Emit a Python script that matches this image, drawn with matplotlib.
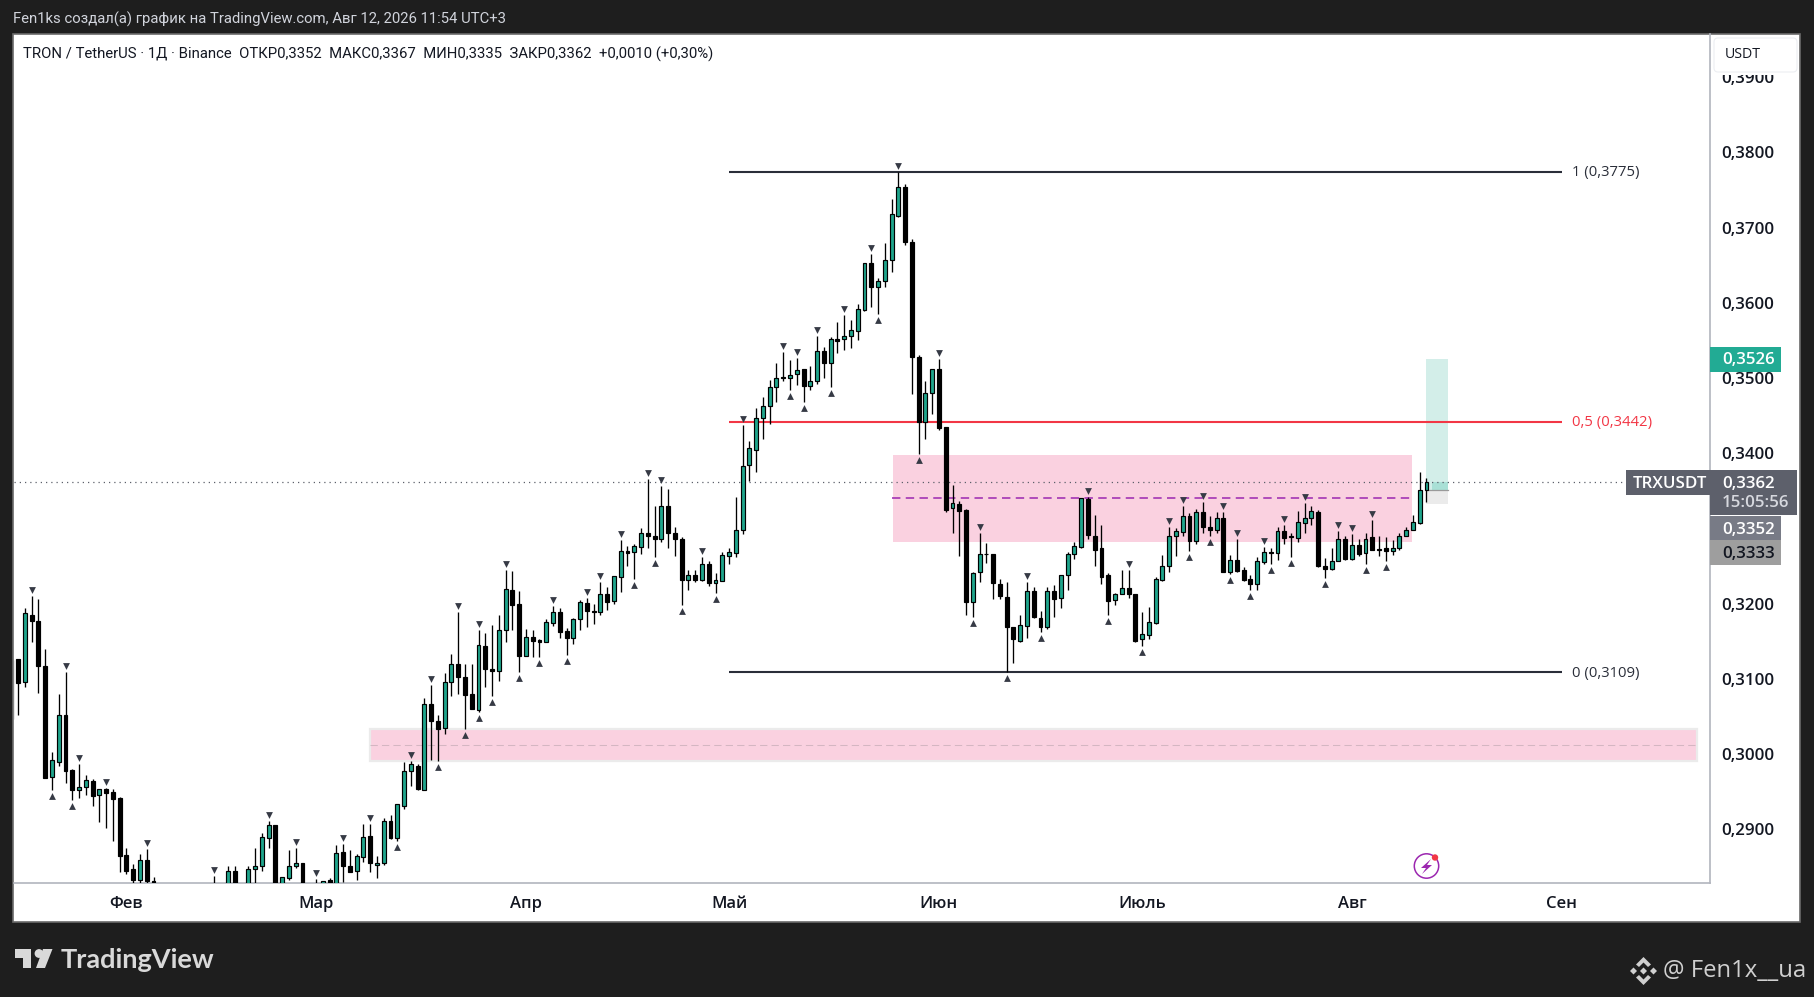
import numpy as np
import pandas as pd
import matplotlib
matplotlib.use('Agg')
import matplotlib.pyplot as plt
from matplotlib.patches import Rectangle, Polygon, Circle, FancyBboxPatch
from matplotlib.ticker import FuncFormatter
from matplotlib.transforms import ScaledTranslation

plt.rcParams['font.family'] = ['Open Sans', 'DejaVu Sans']

N = None
# daily candles from Jan 15, prices in 1/10000 USDT, None = below the visible range
opens = [3047, 3127, 3096, 3186, 3177, 3118, 2970, 2990, 3053, 2979,
         2953, 2956, 2964, 2946, 2954, 2950, 2942, 2866, 2847, 2833,
         2860, 2832, N, N, N, N, N, N, N, N,
         2815, N, 2815, 2845, N, 2815, 2847, 2852, 2889, 2906,
         2815, 2835, 2852, 2856, N, 2815, 2815, 2833, 2815, 2870,
         2851, 2845, 2864, 2891, 2853, 2856, 2912, 2889, 2932, 2978,
         2985, 2953, 3067, 3044, 3035, 3096, 3120, 3103, 3080, 3059,
         3144, 3114, 3111, 3165, 3218, 3200, 3131, 3156, 3152, 3150,
         3175, 3189, 3164, 3155, 3180, 3201, 3191, 3189, 3213, 3204,
         3236, 3271, 3269, 3276, 3294, 3290, 3287, 3330, 3295, 3287,
         3232, 3238, 3232, 3253, 3228, 3230, 3264, 3268, 3298, 3385,
         3405, 3447, 3463, 3489, 3502, 3501, 3506, 3512, 3490, 3496,
         3537, 3521, 3552, 3552, 3556, 3563, 3591, 3653, 3622, 3629,
         3657, 3716, 3755, 3681, 3528, 3442, 3480, 3512, 3436, 3327,
         3333, 3325, 3202, 3242, 3267, 3266, 3227, 3209, 3169, 3151,
         3171, 3217, 3182, 3170, 3217, 3208, 3238, 3267, 3276, 3339,
         3291, 3274, 3238, 3205, 3213, 3221, 3213, 3153, 3159, 3175,
         3232, 3251, 3291, 3296, 3317, 3284, 3322, 3303, 3298, 3314,
         3243, 3259, 3245, 3233, 3226, 3256, 3269, 3268, 3297, 3290,
         3288, 3308, 3314, 3322, 3250, 3247, 3257, 3286, 3260, 3278,
         3268, 3289, 3273, 3274, 3270, 3275, 3290, 3298, 3308, 3352]
highs = [3126, 3127, 3194, 3210, 3206, 3140, 3003, 3080, 3109, 2980,
         2987, 2972, 2967, 2954, 2955, 2954, 2943, 2875, 2854, 2868,
         2874, 2837, N, N, N, N, N, N, N, N,
         2838, N, 2852, 2852, N, 2852, 2876, 2895, 2911, 2906,
         2837, 2873, 2876, 2856, N, 2834, 2832, 2835, 2879, 2881,
         2873, 2868, 2907, 2908, 2865, 2915, 2919, 2934, 2990, 2991,
         2987, 3075, 3092, 3052, 3108, 3134, 3189, 3120, 3120, 3165,
         3161, 3172, 3185, 3245, 3244, 3217, 3167, 3165, 3154, 3180,
         3197, 3194, 3168, 3182, 3205, 3208, 3200, 3229, 3223, 3237,
         3285, 3277, 3280, 3301, 3366, 3330, 3357, 3353, 3302, 3289,
         3245, 3245, 3263, 3257, 3241, 3269, 3274, 3342, 3438, 3417,
         3461, 3475, 3498, 3520, 3535, 3524, 3527, 3513, 3516, 3556,
         3542, 3555, 3575, 3584, 3578, 3599, 3653, 3665, 3633, 3680,
         3739, 3775, 3759, 3685, 3531, 3497, 3513, 3526, 3436, 3358,
         3337, 3326, 3242, 3295, 3281, 3267, 3233, 3229, 3169, 3185,
         3229, 3223, 3190, 3222, 3225, 3238, 3269, 3282, 3341, 3342,
         3318, 3305, 3241, 3214, 3245, 3245, 3213, 3189, 3196, 3236,
         3265, 3303, 3301, 3330, 3321, 3326, 3336, 3317, 3322, 3322,
         3265, 3286, 3249, 3238, 3263, 3276, 3274, 3302, 3305, 3294,
         3324, 3334, 3330, 3325, 3261, 3275, 3297, 3291, 3293, 3286,
         3295, 3312, 3290, 3289, 3285, 3295, 3302, 3318, 3375, 3367]
lows = [3047, 3052, 3090, 3150, 3081, 2969, 2952, 2984, 2962, 2939,
        2942, 2946, 2931, 2910, 2902, 2885, 2843, 2841, 2828, 2828,
        2828, 2805, N, N, N, N, N, N, N, N,
        2805, N, 2810, 2810, N, 2810, 2828, 2845, 2875, 2810,
        2810, 2833, 2849, 2810, N, 2805, 2810, 2810, 2810, 2830,
        2844, 2833, 2857, 2843, 2836, 2853, 2887, 2885, 2927, 2958,
        2952, 2952, 2993, 2991, 3027, 3077, 3080, 3034, 3060, 3056,
        3090, 3078, 3098, 3149, 3165, 3110, 3131, 3130, 3129, 3150,
        3171, 3155, 3132, 3147, 3165, 3170, 3173, 3185, 3192, 3200,
        3216, 3250, 3233, 3266, 3275, 3263, 3282, 3275, 3264, 3198,
        3219, 3229, 3231, 3224, 3215, 3230, 3253, 3262, 3293, 3363,
        3375, 3419, 3439, 3468, 3497, 3485, 3491, 3469, 3485, 3493,
        3501, 3489, 3534, 3538, 3540, 3551, 3589, 3595, 3585, 3622,
        3641, 3714, 3678, 3479, 3399, 3420, 3453, 3431, 3322, 3295,
        3264, 3186, 3183, 3229, 3255, 3207, 3207, 3109, 3121, 3149,
        3155, 3181, 3163, 3167, 3183, 3195, 3219, 3260, 3275, 3287,
        3251, 3226, 3186, 3199, 3213, 3208, 3150, 3144, 3154, 3173,
        3230, 3242, 3264, 3291, 3271, 3280, 3295, 3290, 3295, 3242,
        3240, 3242, 3230, 3218, 3219, 3253, 3253, 3259, 3280, 3262,
        3282, 3295, 3305, 3249, 3235, 3245, 3257, 3259, 3259, 3264,
        3253, 3272, 3264, 3257, 3265, 3272, 3290, 3298, 3306, 3335]
closes = [3126, 3095, 3188, 3177, 3118, 2969, 2992, 3053, 2978, 2953,
          2956, 2966, 2945, 2954, 2949, 2941, 2865, 2845, 2833, 2860,
          2832, 2810, N, N, N, N, N, N, N, N,
          2822, N, 2845, 2815, N, 2848, 2852, 2890, 2906, 2815,
          2837, 2852, 2856, 2815, N, 2820, 2831, 2815, 2869, 2851,
          2844, 2865, 2890, 2855, 2856, 2912, 2889, 2934, 2978, 2987,
          2954, 3067, 3044, 3034, 3096, 3120, 3103, 3079, 3060, 3145,
          3114, 3111, 3166, 3220, 3199, 3131, 3156, 3151, 3150, 3176,
          3189, 3163, 3155, 3180, 3202, 3191, 3189, 3213, 3203, 3237,
          3271, 3268, 3277, 3294, 3290, 3286, 3330, 3294, 3287, 3232,
          3238, 3232, 3253, 3228, 3232, 3265, 3269, 3299, 3384, 3407,
          3447, 3463, 3489, 3501, 3501, 3505, 3511, 3490, 3496, 3537,
          3520, 3552, 3550, 3556, 3564, 3592, 3653, 3622, 3629, 3657,
          3718, 3755, 3681, 3529, 3442, 3480, 3513, 3434, 3325, 3334,
          3324, 3202, 3241, 3267, 3266, 3228, 3210, 3169, 3153, 3172,
          3217, 3183, 3170, 3217, 3207, 3238, 3267, 3277, 3341, 3292,
          3272, 3236, 3204, 3213, 3221, 3213, 3151, 3160, 3176, 3233,
          3251, 3291, 3297, 3317, 3284, 3322, 3303, 3298, 3315, 3243,
          3258, 3244, 3232, 3226, 3257, 3269, 3268, 3297, 3288, 3289,
          3309, 3315, 3323, 3250, 3247, 3257, 3286, 3260, 3278, 3267,
          3287, 3272, 3272, 3271, 3274, 3290, 3298, 3309, 3352, 3362]

# pivot markers, days counted from Mar 1
pivot_high_days = [-42, -37, -35, -31, -25, -15, -7, -3, 0, 4, 8, 14, 17, 21, 24, 28, 35, 40, 42, 45,
                   49, 51, 57, 63, 69, 71, 74, 78, 82, 86, 92, 98, 105, 114, 120, 126, 128, 131,
                   134, 136, 140, 143, 146, 151, 153, 156]
pivot_low_days = [-39, -36, 12, 18, 22, 24, 26, 30, 33, 37, 47, 50, 54, 59, 70, 72, 76, 83, 89, 97,
                  102, 107, 117, 122, 129, 132, 135, 138, 141, 144, 149, 155, 158]

month_days = [-28, 0, 31, 61, 92, 122, 153, 184]
month_labels = ['Фев', 'Мар', 'Апр', 'Май', 'Июн', 'Июль', 'Авг', 'Сен']
price_ticks = [0.29, 0.30, 0.31, 0.32, 0.33, 0.34, 0.35, 0.36, 0.37, 0.38, 0.39]

fib_levels = [0.3775, 0.3442, 0.3109]
fib_labels = ['1 (0,3775)', '0,5 (0,3442)', '0 (0,3109)']
fib_colors = ['#2a2e39', '#f23645', '#2a2e39']

last_price = 0.3362
target_price = 0.3526
entry_price = 0.3352
stop_price = 0.3333

W, H = 1814, 997
GREEN = '#1fa58c'

fig = plt.figure(figsize=(W / 100, H / 100), dpi=100, facecolor='#1e1e1e')


def px_axes(z):
    a = fig.add_axes([0, 0, 1, 1], zorder=z)
    a.set_xlim(0, W)
    a.set_ylim(H, 0)
    a.axis('off')
    return a


bg = px_axes(0)
bg.add_patch(Rectangle((13, 34), 1787, 888, fc='white', ec='#6a6a6a', lw=1.2))

ax = fig.add_axes([13.5 / W, (H - 882.5) / H, 1696 / W, 848.5 / H], zorder=1)
ax.set_xlim(-44.68, 205.8)
ax.set_ylim(0.28296, 0.3958)
ax.patch.set_alpha(0)
for s in ['top', 'left']:
    ax.spines[s].set_visible(False)
for s in ['right', 'bottom']:
    ax.spines[s].set_color('#b2b5be')
    ax.spines[s].set_linewidth(1.2)

o = np.array(opens, dtype=float) / 10000
h = np.array(highs, dtype=float) / 10000
l = np.array(lows, dtype=float) / 10000
c = np.array(closes, dtype=float) / 10000
dates = pd.date_range('2026-01-15', periods=len(o))
days = np.array((dates - pd.Timestamp('2026-03-01')).days)

# zones
ax.add_patch(Rectangle((85.2, 0.3283), 76.7, 0.0115, fc='#fad1e0', ec='none', zorder=1))
ax.add_patch(Rectangle((8, 0.2991), 196, 0.0043, fc='#fad1e0', ec='#ebebeb', lw=1.6, zorder=1))
ax.plot([85, 162], [0.33405, 0.33405], color='#9c27b0', lw=1.1, ls=(0, (5.5, 3.5)), zorder=2)
ax.plot([8, 204], [0.30125, 0.30125], color='#d4b6c2', lw=0.75, ls=(0, (7, 4)), zorder=2)

# long position box
ax.add_patch(Rectangle((164, entry_price), 3.2, target_price - entry_price, fc='#d3eee9', ec='none', zorder=1))
ax.add_patch(Rectangle((164, stop_price), 3.2, entry_price - stop_price, fc='#ebebeb', ec='none', zorder=1))
ax.add_patch(Rectangle((164.8, entry_price), 2.4, last_price - entry_price, fc='#a9e0d6', ec='none', zorder=1))
ax.plot([164, 167.2], [entry_price, entry_price], color='#9a9a9a', lw=0.9, zorder=2)

# last price
ax.axhline(last_price, color='#5d606b', lw=0.9, ls=(0, (1, 3.2)), zorder=2)

# fib
for lev, txt, col in zip(fib_levels, fib_labels, fib_colors):
    ax.plot([61, 184], [lev, lev], color=col, lw=1.5, zorder=2, solid_capstyle='butt')
    ax.text(185.5, lev - 0.00012, txt, color=col, fontsize=10.7, va='center', ha='left')

# candles
up = c >= o
ax.vlines(days, l, h, color='black', lw=0.95, zorder=3)
ax.bar(days[up], (c - o)[up], bottom=o[up], width=0.58, color=GREEN, edgecolor='black', lw=0.85, zorder=4)
ax.bar(days[~up], (o - c)[~up], bottom=c[~up], width=0.58, color='black', edgecolor='black', lw=0.85, zorder=4)

# pivots
hi_x = np.array(pivot_high_days)
lo_x = np.array(pivot_low_days)
ax.scatter(hi_x, h[hi_x + 45] + 0.0008, marker='v', s=24, color='#363a45', lw=0, zorder=5)
ax.scatter(lo_x, l[lo_x + 45] - 0.0008, marker='^', s=24, color='#363a45', lw=0, zorder=5)

ax.set_xticks(month_days)
ax.set_xticklabels(month_labels)
ax.yaxis.tick_right()
ax.set_yticks(price_ticks)
ax.yaxis.set_major_formatter(FuncFormatter(lambda v, pos: f'{v:.4f}'.replace('.', ',')))
ax.tick_params(axis='y', length=0, pad=8.5, labelsize=12.2, labelcolor='#131722')
ax.tick_params(axis='x', length=0, pad=10, labelsize=12, labelcolor='#131722')
for lab in ax.get_xticklabels():
    lab.set_fontweight('semibold')
for lab in ax.get_yticklabels():
    lab.set_fontweight('semibold')
    lab.set_transform(lab.get_transform() + ScaledTranslation(0, 0.4 / 100, fig.dpi_scale_trans))

ui = px_axes(2)
ui.patch.set_alpha(0)


def tag(x0, x1, y0, y1, fc, txt, tc='white', tx=None, dy=0):
    ui.add_patch(Rectangle((x0, y0), x1 - x0, y1 - y0, fc=fc, ec='none'))
    ui.text(x0 + 12 if tx is None else tx, (y0 + y1) / 2 + dy, txt, color=tc, fontsize=12.2,
            va='center', ha='left', weight='semibold')


# USDT button hides the top of the 0,3900 label
ui.add_patch(Rectangle((1711, 35), 88, 40, fc='white', ec='none'))
ui.add_patch(FancyBboxPatch((1717, 41), 77, 28, boxstyle='round,pad=3,rounding_size=4', fc='white', ec='#eceef2', lw=0.8))
ui.text(1725, 55, 'USDT', color='#131722', fontsize=10.2, va='center')
tag(1710, 1781, 347, 372, '#22ab94', '0,3526')
tag(1626, 1710, 470, 495, '#5d606b', 'TRXUSDT', tx=1633, dy=1.5)
ui.add_patch(Rectangle((1710, 470), 87, 45, fc='#5d606b', ec='none'))
ui.text(1722, 483.5, '0,3362', color='white', fontsize=12.2, va='center', weight='semibold')
ui.text(1722, 503, '15:05:56', color='#d6d8de', fontsize=12.2, va='center', weight='semibold')
tag(1710, 1781, 516, 540, '#787b86', '0,3352', dy=1.5)
tag(1710, 1781, 540, 565, '#9e9e9e', '0,3333', tc='#131722', dy=1)

# top texts
ui.text(13, 19.5, 'Fen1ks создал(а) график на TradingView.com, Авг 12, 2026 11:54 UTC+3',
        color='#d1d4dc', fontsize=10.75, va='center', family=['Roboto', 'DejaVu Sans'])
ui.text(23, 54, 'TRON / TetherUS · 1Д · Binance  ОТКР0,3352  МАКС0,3367  МИН0,3335  ЗАКР0,3362  +0,0010 (+0,30%)',
        color='#131722', fontsize=10.75, va='center', family=['Roboto', 'DejaVu Sans'])

# tradingview logo
logo = '#d9d9d9'
ui.add_patch(Polygon([(15, 949), (31, 949), (31, 968), (23, 968), (23, 958), (15, 958)], fc=logo, ec='none'))
ui.add_patch(Circle((39, 953.5), 4.4, fc=logo, ec='none'))
ui.add_patch(Polygon([(43, 949), (52.5, 949), (45, 968), (36, 968)], fc=logo, ec='none'))
ui.text(61, 960, 'TradingView', color=logo, fontsize=19.5, va='center', family='Lato', weight='bold')

# watermark
mark = '#d0d0d0'
ui.add_patch(Polygon([(1630, 971), (1633.5, 967.5), (1637, 971), (1633.5, 974.5)], fc=mark, ec='none'))
ui.add_patch(Polygon([(1650, 971), (1653.5, 967.5), (1657, 971), (1653.5, 974.5)], fc=mark, ec='none'))
ui.add_patch(Polygon([(1640, 971), (1643.5, 967.5), (1647, 971), (1643.5, 974.5)], fc=mark, ec='none'))
ui.add_patch(Polygon([(1643.5, 957), (1651, 964.5), (1648, 967), (1643.5, 962.5), (1639, 967), (1636, 964.5)], fc=mark, ec='none'))
ui.add_patch(Polygon([(1643.5, 985), (1651, 977.5), (1648, 975), (1643.5, 979.5), (1639, 975), (1636, 977.5)], fc=mark, ec='none'))
ui.text(1663, 971, '@ Fen1x__ua', color=mark, fontsize=17.2, va='center')

# lightning icon
ui.add_patch(Circle((1426.5, 866), 12.2, fc='white', ec='#9c27b0', lw=1.1))
ui.add_patch(Polygon([(1431, 859), (1421, 868), (1426, 868), (1422, 874), (1432, 865), (1427, 865)], fc='#9c27b0', ec='none'))
ui.add_patch(Circle((1435, 857.5), 3.2, fc='#f23645', ec='none'))

fig.savefig('out.png', dpi=100, facecolor=fig.get_facecolor())
